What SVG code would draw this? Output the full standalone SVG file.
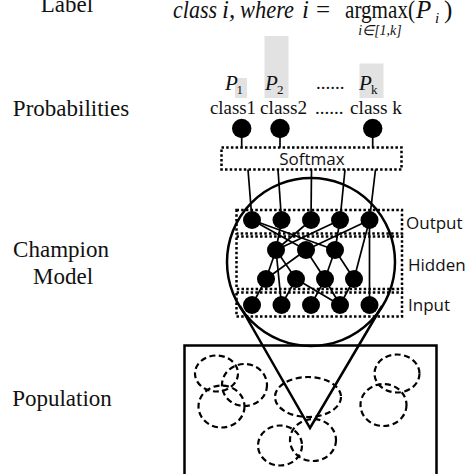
<svg xmlns="http://www.w3.org/2000/svg" width="474" height="474" viewBox="0 0 474 474">
<defs>
<style>
.lbl{font-family:"Liberation Serif","Times New Roman",serif;font-size:23px;fill:#111}
.ser{font-family:"Liberation Serif","Times New Roman",serif;fill:#111}
.it{font-style:italic}
.sans{font-family:"Open Sans","Liberation Sans",sans-serif;font-size:17px;fill:#111}
.node{fill:#000}
.edge{stroke:#000;stroke-width:1.7;fill:none}
.dotbox{fill:none;stroke:#000;stroke-width:2.5;stroke-dasharray:2.5 2.2}
.thick{fill:none;stroke:#000;stroke-width:2.5}
.pop{fill:none;stroke:#000;stroke-width:2.2;stroke-dasharray:6 3.5}
.bar{fill:#e2e2e2}
</style>
</defs>
<rect width="474" height="474" fill="#fff"/>

<!-- left labels -->
<g id="row-labels">
<text class="lbl" x="67" y="12" text-anchor="middle">Label</text>
<text class="lbl" x="71" y="116" text-anchor="middle">Probabilities</text>
<text class="lbl" x="61" y="257" text-anchor="middle">Champion</text>
<text class="lbl" x="63" y="284" text-anchor="middle">Model</text>
<text class="lbl" x="62" y="406" text-anchor="middle">Population</text>
</g>

<!-- formula -->
<g id="formula">
<text class="ser it" font-size="25" x="173" y="18" textLength="44" lengthAdjust="spacingAndGlyphs">class</text>
<text class="ser it" font-size="25" x="222" y="18">i,</text>
<text class="ser it" font-size="25" x="240" y="18" textLength="54" lengthAdjust="spacingAndGlyphs">where</text>
<text class="ser it" font-size="25" x="302" y="18">i</text>
<text class="ser" font-size="25" x="316" y="18">=</text>
<text class="ser" font-size="25" x="345" y="18" textLength="70" lengthAdjust="spacingAndGlyphs">argmax(</text>
<text class="ser it" font-size="25" x="416" y="18">P</text>
<text class="ser it" font-size="15" x="435" y="23">i</text>
<text class="ser" font-size="25" x="444" y="18">)</text>
<text class="ser it" font-size="14" x="380" y="35" text-anchor="middle">i∈[1,k]</text>
</g>

<!-- probability bars and labels -->
<g id="probabilities">
<rect class="bar" x="235" y="78" width="12" height="20"/>
<rect class="bar" x="264.5" y="36" width="24" height="62"/>
<rect class="bar" x="359.5" y="63.5" width="24" height="34.5"/>
<text class="ser it" font-size="21" x="225" y="90">P</text>
<text class="ser" font-size="13" x="236.5" y="94">1</text>
<text class="ser it" font-size="21" x="265" y="90">P</text>
<text class="ser" font-size="13" x="277" y="94">2</text>
<text class="ser it" font-size="21" x="359" y="90">P</text>
<text class="ser" font-size="13" x="371" y="94">k</text>
<text class="ser" font-size="19" x="316" y="89">......</text>
<text class="ser" font-size="19" x="210" y="114" textLength="46" lengthAdjust="spacingAndGlyphs">class1</text>
<text class="ser" font-size="19" x="260" y="114" textLength="47" lengthAdjust="spacingAndGlyphs">class2</text>
<text class="ser" font-size="19" x="315" y="114">......</text>
<text class="ser" font-size="19" x="350" y="114" textLength="52" lengthAdjust="spacingAndGlyphs">class k</text>
</g>

<!-- class nodes -->
<g id="class-nodes">
<circle class="node" cx="241.7" cy="128.5" r="9.7"/>
<circle class="node" cx="280" cy="128.5" r="9.7"/>
<circle class="node" cx="372.7" cy="128.5" r="9.7"/>
</g>

<!-- softmax -->
<g id="softmax">
<rect class="dotbox" x="221.5" y="147.5" width="180" height="22"/>
<text class="sans" x="312" y="164.5" text-anchor="middle">Softmax</text>
</g>

<!-- layer boxes -->
<g id="layer-boxes">
<rect class="dotbox" x="236.5" y="210" width="165.5" height="23.5"/>
<rect class="dotbox" x="236.5" y="236.5" width="165.5" height="52.5"/>
<rect class="dotbox" x="236.5" y="292.5" width="165.5" height="24"/>
<text class="sans" x="406" y="229">Output</text>
<text class="sans" x="408" y="271">Hidden</text>
<text class="sans" x="408" y="311">Input</text>
</g>

<!-- connectors -->
<g id="connectors">
<line class="edge" x1="241.7" y1="135" x2="241.7" y2="147.5"/>
<line class="edge" x1="280" y1="135" x2="280" y2="147.5"/>
<line class="edge" x1="372.7" y1="135" x2="372.7" y2="147.5"/>
<line class="edge" x1="248" y1="169.5" x2="252" y2="220"/>
<line class="edge" x1="278" y1="169.5" x2="281.5" y2="220"/>
<line class="edge" x1="311.5" y1="169.5" x2="311" y2="220"/>
<line class="edge" x1="345" y1="169.5" x2="340" y2="220"/>
<line class="edge" x1="375.5" y1="169.5" x2="369.5" y2="220"/>
<!-- output to hidden1 -->
<line class="edge" x1="252" y1="220" x2="306" y2="250"/>
<line class="edge" x1="252" y1="220" x2="335" y2="250"/>
<line class="edge" x1="281.5" y1="220" x2="276" y2="250"/>
<line class="edge" x1="311" y1="220" x2="276" y2="250"/>
<line class="edge" x1="340" y1="220" x2="276" y2="250"/>
<line class="edge" x1="340" y1="220" x2="335" y2="250"/>
<line class="edge" x1="369.5" y1="220" x2="306" y2="250"/>
<line class="edge" x1="369.5" y1="220" x2="354" y2="279"/>
<line class="edge" x1="369.5" y1="220" x2="369.5" y2="305"/>
<!-- hidden1 to hidden2 -->
<line class="edge" x1="276" y1="250" x2="266" y2="279"/>
<line class="edge" x1="276" y1="250" x2="296" y2="279"/>
<line class="edge" x1="306" y1="250" x2="266" y2="279"/>
<line class="edge" x1="306" y1="250" x2="325" y2="279"/>
<line class="edge" x1="335" y1="250" x2="325" y2="279"/>
<line class="edge" x1="335" y1="250" x2="354" y2="279"/>
<line class="edge" x1="276" y1="250" x2="281.5" y2="305"/>
<!-- hidden2 to input -->
<line class="edge" x1="266" y1="279" x2="252" y2="305"/>
<line class="edge" x1="296" y1="279" x2="281.5" y2="305"/>
<line class="edge" x1="296" y1="279" x2="340" y2="305"/>
<line class="edge" x1="325" y1="279" x2="311" y2="305"/>
<line class="edge" x1="325" y1="279" x2="340" y2="305"/>
<line class="edge" x1="354" y1="279" x2="340" y2="305"/>
</g>

<!-- network nodes -->
<g id="output-layer">
<circle class="node" cx="252" cy="220" r="9"/>
<circle class="node" cx="281.5" cy="220" r="9"/>
<circle class="node" cx="311" cy="220" r="9"/>
<circle class="node" cx="340" cy="220" r="9"/>
<circle class="node" cx="369.5" cy="220" r="9"/>
</g>
<g id="hidden-layer">
<circle class="node" cx="276" cy="250" r="9"/>
<circle class="node" cx="306" cy="250" r="9"/>
<circle class="node" cx="335" cy="250" r="9"/>
<circle class="node" cx="266" cy="279" r="9"/>
<circle class="node" cx="296" cy="279" r="9"/>
<circle class="node" cx="325" cy="279" r="9"/>
<circle class="node" cx="354" cy="279" r="9"/>
</g>
<g id="input-layer">
<circle class="node" cx="252" cy="305" r="9"/>
<circle class="node" cx="281.5" cy="305" r="9"/>
<circle class="node" cx="311" cy="305" r="9"/>
<circle class="node" cx="340" cy="305" r="9"/>
<circle class="node" cx="369.5" cy="305" r="9"/>
</g>

<!-- magnifier -->
<g id="champion-lens">
<circle class="thick" cx="311" cy="262" r="84"/>
<polyline class="thick" points="240,306 310,428 382,306"/>
</g>

<!-- population -->
<g id="population">
<path class="thick" d="M184.5,476 V345.5 H436.5 V476"/>
<ellipse class="pop" cx="216.5" cy="373.5" rx="21.5" ry="18"/>
<ellipse class="pop" cx="244.5" cy="385" rx="22.5" ry="21"/>
<ellipse class="pop" cx="221.5" cy="406.5" rx="23" ry="21"/>
<ellipse class="pop" cx="308" cy="397" rx="33" ry="20"/>
<ellipse class="pop" cx="280" cy="445.5" rx="22" ry="20"/>
<ellipse class="pop" cx="313" cy="440" rx="23" ry="21"/>
<ellipse class="pop" cx="397" cy="373.5" rx="22.5" ry="19"/>
<ellipse class="pop" cx="383.5" cy="405" rx="23" ry="21"/>
</g>
</svg>
